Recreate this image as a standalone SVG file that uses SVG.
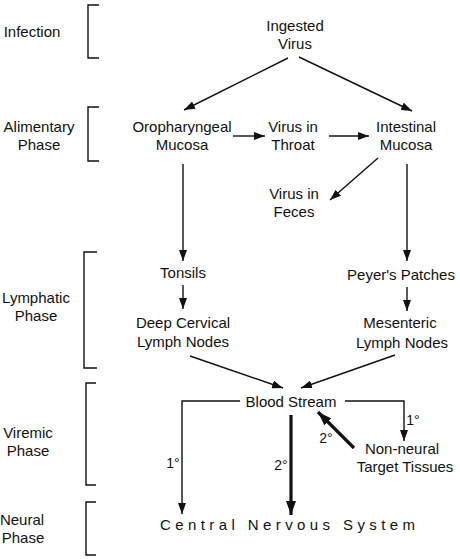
<svg xmlns="http://www.w3.org/2000/svg" width="460" height="559" viewBox="0 0 460 559">
<defs>
<style>
text{font-family:"Liberation Sans",Arial,sans-serif;font-size:15px;fill:#111;text-anchor:middle}
.deg{font-size:14px}
.ln{stroke:#111;stroke-width:1.4;fill:none}
.thick{stroke:#111;stroke-width:3.2;fill:none}
.br{stroke:#111;stroke-width:1.4;fill:none}
</style>
<marker id="ah" markerUnits="userSpaceOnUse" markerWidth="11" markerHeight="8" refX="11" refY="4" orient="auto"><path d="M0,0 L11,4 L0,8 z" fill="#111"/></marker>
<marker id="ahb" markerUnits="userSpaceOnUse" markerWidth="14" markerHeight="10" refX="14" refY="5" orient="auto"><path d="M0,0 L14,5 L0,10 z" fill="#111"/></marker>
</defs>
<rect width="460" height="559" fill="#fff"/>
<g id="phases">
<path class="br" d="M99,5 H88 V58 H99"/>
<path class="br" d="M99,107 H88 V161 H99"/>
<path class="br" d="M97,252 H84 V368 H97"/>
<path class="br" d="M96,383 H86 V485 H96"/>
<path class="br" d="M96,502 H86 V555 H96"/>
<text x="32" y="37">Infection</text>
<text x="39" y="132">Alimentary</text><text x="39" y="150">Phase</text>
<text x="36" y="303">Lymphatic</text><text x="36" y="321">Phase</text>
<text x="28" y="438">Viremic</text><text x="28" y="456">Phase</text>
<text x="22" y="525">Neural</text><text x="23" y="543">Phase</text>
</g>
<g id="connectors">
<line class="ln" x1="288" y1="58" x2="184" y2="110" marker-end="url(#ah)"/>
<line class="ln" x1="299" y1="57" x2="412" y2="111" marker-end="url(#ah)"/>
<line class="ln" x1="233" y1="136" x2="265" y2="136" marker-end="url(#ah)"/>
<line class="ln" x1="329" y1="136" x2="369" y2="136" marker-end="url(#ah)"/>
<line class="ln" x1="378" y1="158" x2="330" y2="200" marker-end="url(#ah)"/>
<line class="ln" x1="183" y1="164" x2="183" y2="261" marker-end="url(#ah)"/>
<line class="ln" x1="407" y1="164" x2="407" y2="261" marker-end="url(#ah)"/>
<line class="ln" x1="183" y1="285" x2="183" y2="309" marker-end="url(#ah)"/>
<line class="ln" x1="407" y1="287" x2="407" y2="311" marker-end="url(#ah)"/>
<line class="ln" x1="190" y1="356" x2="283" y2="388" marker-end="url(#ah)"/>
<line class="ln" x1="395" y1="355" x2="301" y2="388" marker-end="url(#ah)"/>
<polyline class="ln" points="240,401 182,401 182,514" marker-end="url(#ah)"/>
<line class="thick" x1="291" y1="415" x2="291" y2="515" marker-end="url(#ahb)"/>
<polyline class="ln" points="345,401 404,401 404,441" marker-end="url(#ah)"/>
<line class="thick" x1="354" y1="448" x2="318" y2="412" marker-end="url(#ahb)"/>
<text class="deg" x="173" y="468">1°</text>
<text class="deg" x="281" y="470">2°</text>
<text class="deg" x="413" y="425">1°</text>
<text class="deg" x="326" y="443">2°</text>
</g>
<g id="ingested"><text x="295" y="31">Ingested</text><text x="295" y="49">Virus</text></g>
<g id="oropharyngeal"><text x="182" y="132">Oropharyngeal</text><text x="182" y="150">Mucosa</text></g>
<g id="throat"><text x="293" y="132">Virus in</text><text x="293" y="150">Throat</text></g>
<g id="intestinal"><text x="406" y="132">Intestinal</text><text x="406" y="150">Mucosa</text></g>
<g id="feces"><text x="294" y="199">Virus in</text><text x="294" y="217">Feces</text></g>
<g id="tonsils"><text x="183" y="278">Tonsils</text></g>
<g id="deepcervical"><text x="183" y="328">Deep Cervical</text><text x="183" y="347">Lymph Nodes</text></g>
<g id="peyers"><text x="401" y="280">Peyer's Patches</text></g>
<g id="mesenteric"><text x="400" y="328">Mesenteric</text><text x="402" y="348">Lymph Nodes</text></g>
<g id="blood"><text x="291" y="407">Blood Stream</text></g>
<g id="nonneural"><text x="402" y="454">Non-neural</text><text x="405" y="472">Target Tissues</text></g>
<g id="cns"><text x="160" y="530" style="text-anchor:start" textLength="255" lengthAdjust="spacing">Central Nervous System</text></g>
</svg>
